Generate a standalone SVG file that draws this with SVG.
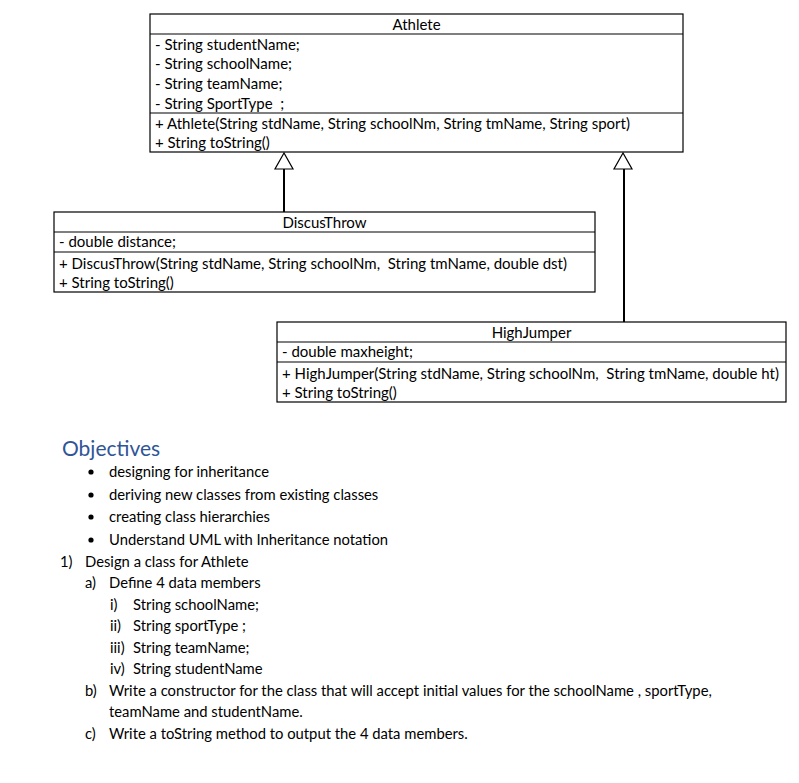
<svg xmlns="http://www.w3.org/2000/svg" width="799" height="783" viewBox="0 0 799 783">
<style>
  .box { fill: #fff; stroke: #000; stroke-width: 1.2; }
  .sep { stroke: #000; stroke-width: 1.2; }
  .t { font-family: Lato, "Liberation Sans", sans-serif; font-size: 15px; fill: #000; }
  .l { font-family: Lato, "Liberation Sans", sans-serif; font-size: 14.8px; fill: #000; }
  .c { text-anchor: middle; }
  .h { font-family: Lato, "Liberation Sans", sans-serif; font-size: 21px; fill: #2F5597; }
  .edge { stroke: #000; stroke-width: 2; fill: none; }
  .tri { fill: #fff; stroke: #000; stroke-width: 1.2; }
</style>
<rect width="799" height="783" fill="#fff"/>
<g id="connectors">
  <line class="edge" x1="284" y1="169" x2="284" y2="212"/>
  <polygon class="tri" points="284,153 275,169 293,169"/>
  <line class="edge" x1="624" y1="169" x2="624" y2="322"/>
  <polygon class="tri" points="623,153 614,169 632,169"/>
</g>
<g id="Athlete">
  <rect class="box" x="150" y="14" width="533" height="138"/>
  <line class="sep" x1="150" y1="34" x2="683" y2="34"/>
  <line class="sep" x1="150" y1="113" x2="683" y2="113"/>
  <text class="t c" x="416.5" y="30">Athlete</text>
  <text class="t" x="155" y="50">- String studentName;</text>
  <text class="t" x="155" y="69">- String schoolName;</text>
  <text class="t" x="155" y="89">- String teamName;</text>
  <text class="t" x="155" y="109" xml:space="preserve">- String SportType  ;</text>
  <text class="t" x="155" y="129">+ Athlete(String stdName, String schoolNm, String tmName, String sport)</text>
  <text class="t" x="155" y="148">+ String toString()</text>
</g>
<g id="DiscusThrow">
  <rect class="box" x="54" y="212" width="541" height="80"/>
  <line class="sep" x1="54" y1="232" x2="595" y2="232"/>
  <line class="sep" x1="54" y1="252" x2="595" y2="252"/>
  <text class="t c" x="324.5" y="228">DiscusThrow</text>
  <text class="t" x="59" y="247">- double distance;</text>
  <text class="t" x="59" y="269" xml:space="preserve">+ DiscusThrow(String stdName, String schoolNm,  String tmName, double dst)</text>
  <text class="t" x="59" y="288">+ String toString()</text>
</g>
<g id="HighJumper">
  <rect class="box" x="277" y="322" width="509" height="80"/>
  <line class="sep" x1="277" y1="342" x2="786" y2="342"/>
  <line class="sep" x1="277" y1="362" x2="786" y2="362"/>
  <text class="t c" x="531.5" y="338">HighJumper</text>
  <text class="t" x="282" y="357">- double maxheight;</text>
  <text class="t" x="282" y="379" xml:space="preserve">+ HighJumper(String stdName, String schoolNm,  String tmName, double ht)</text>
  <text class="t" x="282" y="398">+ String toString()</text>
</g>
<g id="objectives">
  <text class="h" x="62" y="456">Objectives</text>
  <circle cx="91" cy="472" r="2.6"/>
  <circle cx="91" cy="495" r="2.6"/>
  <circle cx="91" cy="517" r="2.6"/>
  <circle cx="91" cy="540" r="2.6"/>
  <text class="l" x="109" y="477">designing for inheritance</text>
  <text class="l" x="109" y="500">deriving new classes from existing classes</text>
  <text class="l" x="109" y="522">creating class hierarchies</text>
  <text class="l" x="109" y="545">Understand UML with Inheritance notation</text>
  <text class="l" x="60" y="567">1)</text>
  <text class="l" x="85" y="567">Design a class for Athlete</text>
  <text class="l" x="85" y="588">a)</text>
  <text class="l" x="109" y="588">Define 4 data members</text>
  <text class="l" x="110" y="610">i)</text>
  <text class="l" x="133" y="610">String schoolName;</text>
  <text class="l" x="110" y="631">ii)</text>
  <text class="l" x="133" y="631">String sportType ;</text>
  <text class="l" x="110" y="653">iii)</text>
  <text class="l" x="133" y="653">String teamName;</text>
  <text class="l" x="110" y="674">iv)</text>
  <text class="l" x="133" y="674">String studentName</text>
  <text class="l" x="85" y="696">b)</text>
  <text class="l" x="109" y="696">Write a constructor for the class that will accept initial values for the schoolName , sportType,</text>
  <text class="l" x="109" y="717">teamName and studentName.</text>
  <text class="l" x="85" y="739">c)</text>
  <text class="l" x="109" y="739">Write a toString method to output the 4 data members.</text>
</g>
</svg>
